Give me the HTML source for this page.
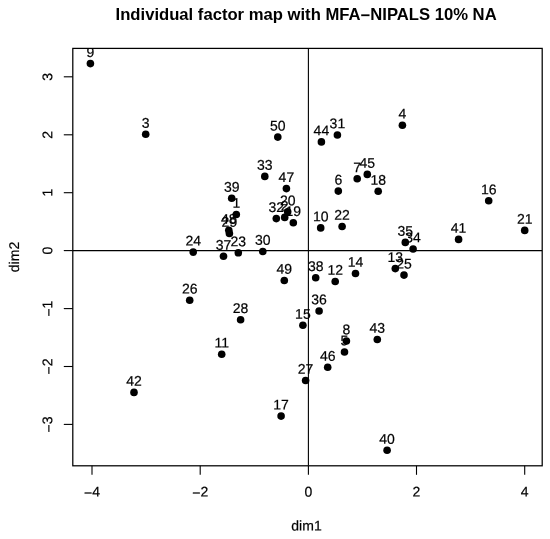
<!DOCTYPE html>
<html><head><meta charset="utf-8"><title>Individual factor map</title>
<style>
html,body{margin:0;padding:0;background:#fff;}
svg{display:block;}
text{font-family:"Liberation Sans",sans-serif;fill:#000;}
.l{font-size:14px;text-anchor:middle;stroke:#000;stroke-width:0.2;}
.t{font-size:16.65px;font-weight:bold;text-anchor:middle;}
line,rect{stroke:#000;stroke-width:1.25;fill:none;}
line{stroke-width:1.1;}
</style></head><body>
<svg width="550" height="539" viewBox="0 0 550 539">
<rect x="0" y="0" width="550" height="539" style="fill:#fff;stroke:none"/>
<defs><clipPath id="c"><rect x="72.8" y="48.4" width="469.4" height="417.4"/></clipPath></defs>
<text class="t" transform="translate(306.1,19.6) rotate(0.02)">Individual factor map with MFA<tspan dy="1">−</tspan><tspan dy="-1">NIPALS 10% NA</tspan></text>
<g clip-path="url(#c)">
<circle cx="236.3" cy="214.5" r="3.80"/>
<circle cx="284.7" cy="217.4" r="3.80"/>
<circle cx="145.7" cy="134.3" r="3.80"/>
<circle cx="402.4" cy="125.2" r="3.80"/>
<circle cx="344.5" cy="352.0" r="3.80"/>
<circle cx="338.3" cy="191.1" r="3.80"/>
<circle cx="357.2" cy="178.8" r="3.80"/>
<circle cx="346.4" cy="341.0" r="3.80"/>
<circle cx="90.4" cy="63.6" r="3.80"/>
<circle cx="320.7" cy="227.9" r="3.80"/>
<circle cx="221.7" cy="354.2" r="3.80"/>
<circle cx="335.2" cy="281.5" r="3.80"/>
<circle cx="395.3" cy="268.6" r="3.80"/>
<circle cx="355.5" cy="273.5" r="3.80"/>
<circle cx="302.9" cy="325.3" r="3.80"/>
<circle cx="488.7" cy="200.8" r="3.80"/>
<circle cx="281.1" cy="416.1" r="3.80"/>
<circle cx="378.2" cy="191.3" r="3.80"/>
<circle cx="293.3" cy="222.7" r="3.80"/>
<circle cx="287.7" cy="211.8" r="3.80"/>
<circle cx="524.7" cy="230.4" r="3.80"/>
<circle cx="342.1" cy="226.5" r="3.80"/>
<circle cx="238.3" cy="252.8" r="3.80"/>
<circle cx="193.2" cy="252.1" r="3.80"/>
<circle cx="404.0" cy="275.1" r="3.80"/>
<circle cx="189.7" cy="300.2" r="3.80"/>
<circle cx="305.6" cy="380.5" r="3.80"/>
<circle cx="240.6" cy="319.7" r="3.80"/>
<circle cx="229.4" cy="233.5" r="3.80"/>
<circle cx="262.8" cy="251.5" r="3.80"/>
<circle cx="337.4" cy="135.0" r="3.80"/>
<circle cx="276.3" cy="218.6" r="3.80"/>
<circle cx="264.8" cy="176.4" r="3.80"/>
<circle cx="413.1" cy="249.0" r="3.80"/>
<circle cx="405.3" cy="242.4" r="3.80"/>
<circle cx="319.1" cy="311.0" r="3.80"/>
<circle cx="223.5" cy="256.3" r="3.80"/>
<circle cx="315.7" cy="277.7" r="3.80"/>
<circle cx="231.7" cy="198.3" r="3.80"/>
<circle cx="387.1" cy="450.3" r="3.80"/>
<circle cx="458.6" cy="239.4" r="3.80"/>
<circle cx="134.0" cy="392.4" r="3.80"/>
<circle cx="377.3" cy="339.5" r="3.80"/>
<circle cx="321.4" cy="141.9" r="3.80"/>
<circle cx="367.3" cy="174.4" r="3.80"/>
<circle cx="327.7" cy="367.3" r="3.80"/>
<circle cx="286.4" cy="188.6" r="3.80"/>
<circle cx="228.8" cy="230.3" r="3.80"/>
<circle cx="284.3" cy="280.5" r="3.80"/>
<circle cx="277.8" cy="137.1" r="3.80"/>
<text class="l" transform="translate(236.3,207.85) rotate(0.03)">1</text>
<text class="l" transform="translate(284.7,210.75) rotate(0.03)">2</text>
<text class="l" transform="translate(145.7,127.65) rotate(0.03)">3</text>
<text class="l" transform="translate(402.4,118.55) rotate(0.03)">4</text>
<text class="l" transform="translate(344.5,345.35) rotate(0.03)">5</text>
<text class="l" transform="translate(338.3,184.45) rotate(0.03)">6</text>
<text class="l" transform="translate(357.2,172.15) rotate(0.03)">7</text>
<text class="l" transform="translate(346.4,334.35) rotate(0.03)">8</text>
<text class="l" transform="translate(90.4,56.95) rotate(0.03)">9</text>
<text class="l" transform="translate(320.7,221.25) rotate(0.03)">10</text>
<text class="l" transform="translate(221.7,347.55) rotate(0.03)">11</text>
<text class="l" transform="translate(335.2,274.85) rotate(0.03)">12</text>
<text class="l" transform="translate(395.3,261.95) rotate(0.03)">13</text>
<text class="l" transform="translate(355.5,266.85) rotate(0.03)">14</text>
<text class="l" transform="translate(302.9,318.65) rotate(0.03)">15</text>
<text class="l" transform="translate(488.7,194.15) rotate(0.03)">16</text>
<text class="l" transform="translate(281.1,409.45) rotate(0.03)">17</text>
<text class="l" transform="translate(378.2,184.65) rotate(0.03)">18</text>
<text class="l" transform="translate(293.3,216.05) rotate(0.03)">19</text>
<text class="l" transform="translate(287.7,205.15) rotate(0.03)">20</text>
<text class="l" transform="translate(524.7,223.75) rotate(0.03)">21</text>
<text class="l" transform="translate(342.1,219.85) rotate(0.03)">22</text>
<text class="l" transform="translate(238.3,246.15) rotate(0.03)">23</text>
<text class="l" transform="translate(193.2,245.45) rotate(0.03)">24</text>
<text class="l" transform="translate(404.0,268.45) rotate(0.03)">25</text>
<text class="l" transform="translate(189.7,293.55) rotate(0.03)">26</text>
<text class="l" transform="translate(305.6,373.85) rotate(0.03)">27</text>
<text class="l" transform="translate(240.6,313.05) rotate(0.03)">28</text>
<text class="l" transform="translate(229.4,226.85) rotate(0.03)">29</text>
<text class="l" transform="translate(262.8,244.85) rotate(0.03)">30</text>
<text class="l" transform="translate(337.4,128.35) rotate(0.03)">31</text>
<text class="l" transform="translate(276.3,211.95) rotate(0.03)">32</text>
<text class="l" transform="translate(264.8,169.75) rotate(0.03)">33</text>
<text class="l" transform="translate(413.1,242.35) rotate(0.03)">34</text>
<text class="l" transform="translate(405.3,235.75) rotate(0.03)">35</text>
<text class="l" transform="translate(319.1,304.35) rotate(0.03)">36</text>
<text class="l" transform="translate(223.5,249.65) rotate(0.03)">37</text>
<text class="l" transform="translate(315.7,271.05) rotate(0.03)">38</text>
<text class="l" transform="translate(231.7,191.65) rotate(0.03)">39</text>
<text class="l" transform="translate(387.1,443.65) rotate(0.03)">40</text>
<text class="l" transform="translate(458.6,232.75) rotate(0.03)">41</text>
<text class="l" transform="translate(134.0,385.75) rotate(0.03)">42</text>
<text class="l" transform="translate(377.3,332.85) rotate(0.03)">43</text>
<text class="l" transform="translate(321.4,135.25) rotate(0.03)">44</text>
<text class="l" transform="translate(367.3,167.75) rotate(0.03)">45</text>
<text class="l" transform="translate(327.7,360.65) rotate(0.03)">46</text>
<text class="l" transform="translate(286.4,181.95) rotate(0.03)">47</text>
<text class="l" transform="translate(228.8,223.65) rotate(0.03)">48</text>
<text class="l" transform="translate(284.3,273.85) rotate(0.03)">49</text>
<text class="l" transform="translate(277.8,130.45) rotate(0.03)">50</text>
<line x1="72.8" y1="250.6" x2="542.2" y2="250.6"/>
<line x1="308.4" y1="48.4" x2="308.4" y2="465.8"/>
</g>
<rect x="72.8" y="48.4" width="469.4" height="417.4"/>
<line x1="92.0" y1="465.8" x2="92.0" y2="474.8"/>
<text class="l" transform="translate(92.0,496.5) rotate(0.03)"><tspan dy="1.3">−</tspan><tspan dy="-1.3">4</tspan></text>
<line x1="200.2" y1="465.8" x2="200.2" y2="474.8"/>
<text class="l" transform="translate(200.2,496.5) rotate(0.03)"><tspan dy="1.3">−</tspan><tspan dy="-1.3">2</tspan></text>
<line x1="308.4" y1="465.8" x2="308.4" y2="474.8"/>
<text class="l" transform="translate(308.4,496.5) rotate(0.03)">0</text>
<line x1="416.5" y1="465.8" x2="416.5" y2="474.8"/>
<text class="l" transform="translate(416.5,496.5) rotate(0.03)">2</text>
<line x1="524.7" y1="465.8" x2="524.7" y2="474.8"/>
<text class="l" transform="translate(524.7,496.5) rotate(0.03)">4</text>
<line x1="63.8" y1="424.4" x2="72.8" y2="424.4"/>
<text class="l" transform="translate(52.2,424.4) rotate(-90.03)"><tspan dy="1.3">−</tspan><tspan dy="-1.3">3</tspan></text>
<line x1="63.8" y1="366.5" x2="72.8" y2="366.5"/>
<text class="l" transform="translate(52.2,366.5) rotate(-90.03)"><tspan dy="1.3">−</tspan><tspan dy="-1.3">2</tspan></text>
<line x1="63.8" y1="308.6" x2="72.8" y2="308.6"/>
<text class="l" transform="translate(52.2,308.6) rotate(-90.03)"><tspan dy="1.3">−</tspan><tspan dy="-1.3">1</tspan></text>
<line x1="63.8" y1="250.6" x2="72.8" y2="250.6"/>
<text class="l" transform="translate(52.2,250.6) rotate(-90.03)">0</text>
<line x1="63.8" y1="192.7" x2="72.8" y2="192.7"/>
<text class="l" transform="translate(52.2,192.7) rotate(-90.03)">1</text>
<line x1="63.8" y1="134.8" x2="72.8" y2="134.8"/>
<text class="l" transform="translate(52.2,134.8) rotate(-90.03)">2</text>
<line x1="63.8" y1="76.8" x2="72.8" y2="76.8"/>
<text class="l" transform="translate(52.2,76.8) rotate(-90.03)">3</text>
<text class="l" transform="translate(306.5,530.5) rotate(0.03)">dim1</text>
<text class="l" transform="translate(19,257) rotate(-90.03)">dim2</text>
</svg></body></html>
